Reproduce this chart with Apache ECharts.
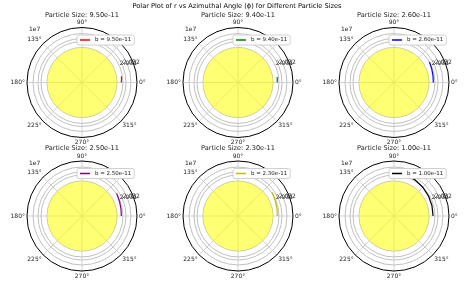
<!DOCTYPE html>
<html>
<head>
<meta charset="utf-8">
<script src="https://cdn.jsdelivr.net/npm/echarts@6/dist/echarts.min.js"></script>
<style>
  html, body { margin: 0; padding: 0; background: #fff; }
  #chart { width: 474px; height: 282px; }
</style>
</head>
<body>
<div id="chart"></div>
<script>
// particle sizes (b) and the matplotlib colours used for each panel
const particleSizes = ['9.50e-11', '9.40e-11', '2.60e-11', '2.50e-11', '2.30e-11', '1.00e-11'];
const lineColors = ['#ff0000', '#008000', '#0000ff', '#800080', '#bfbf00', '#000000'];

// azimuthal angle phi (deg) and r (m)
const phiA = [0, 3, 6, 9];
const rA = [7.15e6, 7.18e6, 7.22e6, 7.27e6];
const phiB = [0, 3, 6, 8];
const rB = [7.12e6, 7.15e6, 7.18e6, 7.2e6];
const phiC = [0, 10, 20, 30];
const rC = [7.15e6, 7.2e6, 7.3e6, 7.45e6];
const phiD = [0, 10, 20, 30, 33];
const rD = [7.15e6, 7.2e6, 7.3e6, 7.45e6, 7.5e6];
const phiE = [0, 10, 20, 30, 35];
const rE = [7.15e6, 7.2e6, 7.3e6, 7.45e6, 7.52e6];
const phiF = [0, 15, 30, 45, 60, 75, 85];
const rF = [7.1e6, 7.15e6, 7.25e6, 7.4e6, 7.6e6, 7.8e6, 7.9e6];
const phiList = [phiA, phiB, phiC, phiD, phiE, phiF];
const rList = [rA, rB, rC, rD, rE, rF];

// the yellow body and the radial grid
const bodyRadius = 6.371e6;
const rMax = 1e7;
const rTicks = [6.371e6, 7.45e6, 8.0e6, 8.9e6];
const rTickLabels = ['6.371', '2.031', '2.032', '2.0325'];

const centers = [[82, 82.5], [238, 82.5], [394, 82.5], [82, 216], [238, 216], [394, 216]];
const R = 55;
const font = 'DejaVu Sans';

const polar = [], angleAxis = [], radiusAxis = [], series = [], legend = [], title = [], graphic = [];

title.push({
  text: 'Polar Plot of r vs Azimuthal Angle (\u03d5) for Different Particle Sizes',
  left: 237, top: 3, textAlign: 'center', padding: 0,
  textStyle: { fontFamily: font, fontSize: 6.6, fontWeight: 'normal', color: '#000' }
});

centers.forEach(function (c, i) {
  const main = 2 * i, over = 2 * i + 1;
  polar.push({ center: c, radius: R });
  polar.push({ center: c, radius: R });

  angleAxis.push({
    polarIndex: main, type: 'value', min: 0, max: 360, interval: 45,
    startAngle: 0, clockwise: false,
    axisLine: { lineStyle: { color: '#000', width: 1 } },
    axisTick: { show: false },
    axisLabel: { formatter: '{value}\u00b0', fontFamily: font, fontSize: 6, color: '#222', margin: 2 },
    splitLine: { lineStyle: { color: '#c8c8c8', width: 0.8 } }
  });
  radiusAxis.push({
    polarIndex: main, type: 'value', min: 0, max: rMax,
    axisLine: { show: false }, axisTick: { show: false },
    axisLabel: { show: false }, splitLine: { show: false }
  });

  // overlay: body disc, radial rings and their labels at 22.5 deg
  angleAxis.push({
    polarIndex: over, type: 'category', data: ['body'], startAngle: 22.5,
    axisLine: { show: false }, axisTick: { show: false },
    axisLabel: { show: false }, splitLine: { show: false }
  });
  radiusAxis.push({
    polarIndex: over, type: 'value', min: 0, max: rMax,
    axisLine: { show: false },
    axisTick: { show: false, customValues: rTicks },
    axisLabel: {
      customValues: rTicks, fontFamily: font, fontSize: 6, color: '#222', margin: 0,
      align: 'left', verticalAlign: 'bottom',
      formatter: function (v) { return rTickLabels[rTicks.indexOf(v)]; }
    },
    splitLine: { show: true, lineStyle: { color: '#b0b0b0', width: 0.8 } }
  });

  series.push({
    type: 'bar', coordinateSystem: 'polar', polarIndex: over, data: [bodyRadius], barWidth: '100%',
    itemStyle: { color: 'rgba(255,255,0,0.55)' }, silent: true, z: 2
  });
  const name = 'b = ' + particleSizes[i];
  series.push({
    name: name, type: 'line', coordinateSystem: 'polar', polarIndex: main,
    data: phiList[i].map(function (p, k) { return [rList[i][k], p]; }),
    showSymbol: false, silent: true, z: 3,
    lineStyle: { color: lineColors[i], width: 1.2 }, itemStyle: { color: lineColors[i] }
  });

  legend.push({
    data: [name], left: c[0] - 5, top: c[1] - 47.5, selectedMode: false,
    icon: 'rect', itemWidth: 10, itemHeight: 1.5, itemGap: 4,
    padding: [2, 3], backgroundColor: 'rgba(255,255,255,0.95)',
    borderColor: '#d0d0d0', borderWidth: 1, borderRadius: 2,
    textStyle: { fontFamily: font, fontSize: 5.5, color: '#222' }
  });

  title.push({
    text: 'Particle Size: ' + particleSizes[i],
    left: c[0], top: c[1] - 71, textAlign: 'center', padding: 0,
    textStyle: { fontFamily: font, fontSize: 6.6, fontWeight: 'normal', color: '#222' }
  });

  graphic.push({
    type: 'text', left: c[0] - 53, top: c[1] - 56,
    style: { text: '1e7', font: '6px "DejaVu Sans"', fill: '#222' }
  });
});

const chart = echarts.init(document.getElementById('chart'));
chart.setOption({
  animation: false,
  backgroundColor: '#fff',
  title: title,
  polar: polar,
  angleAxis: angleAxis,
  radiusAxis: radiusAxis,
  legend: legend,
  graphic: graphic,
  series: series
});
</script>
</body>
</html>
